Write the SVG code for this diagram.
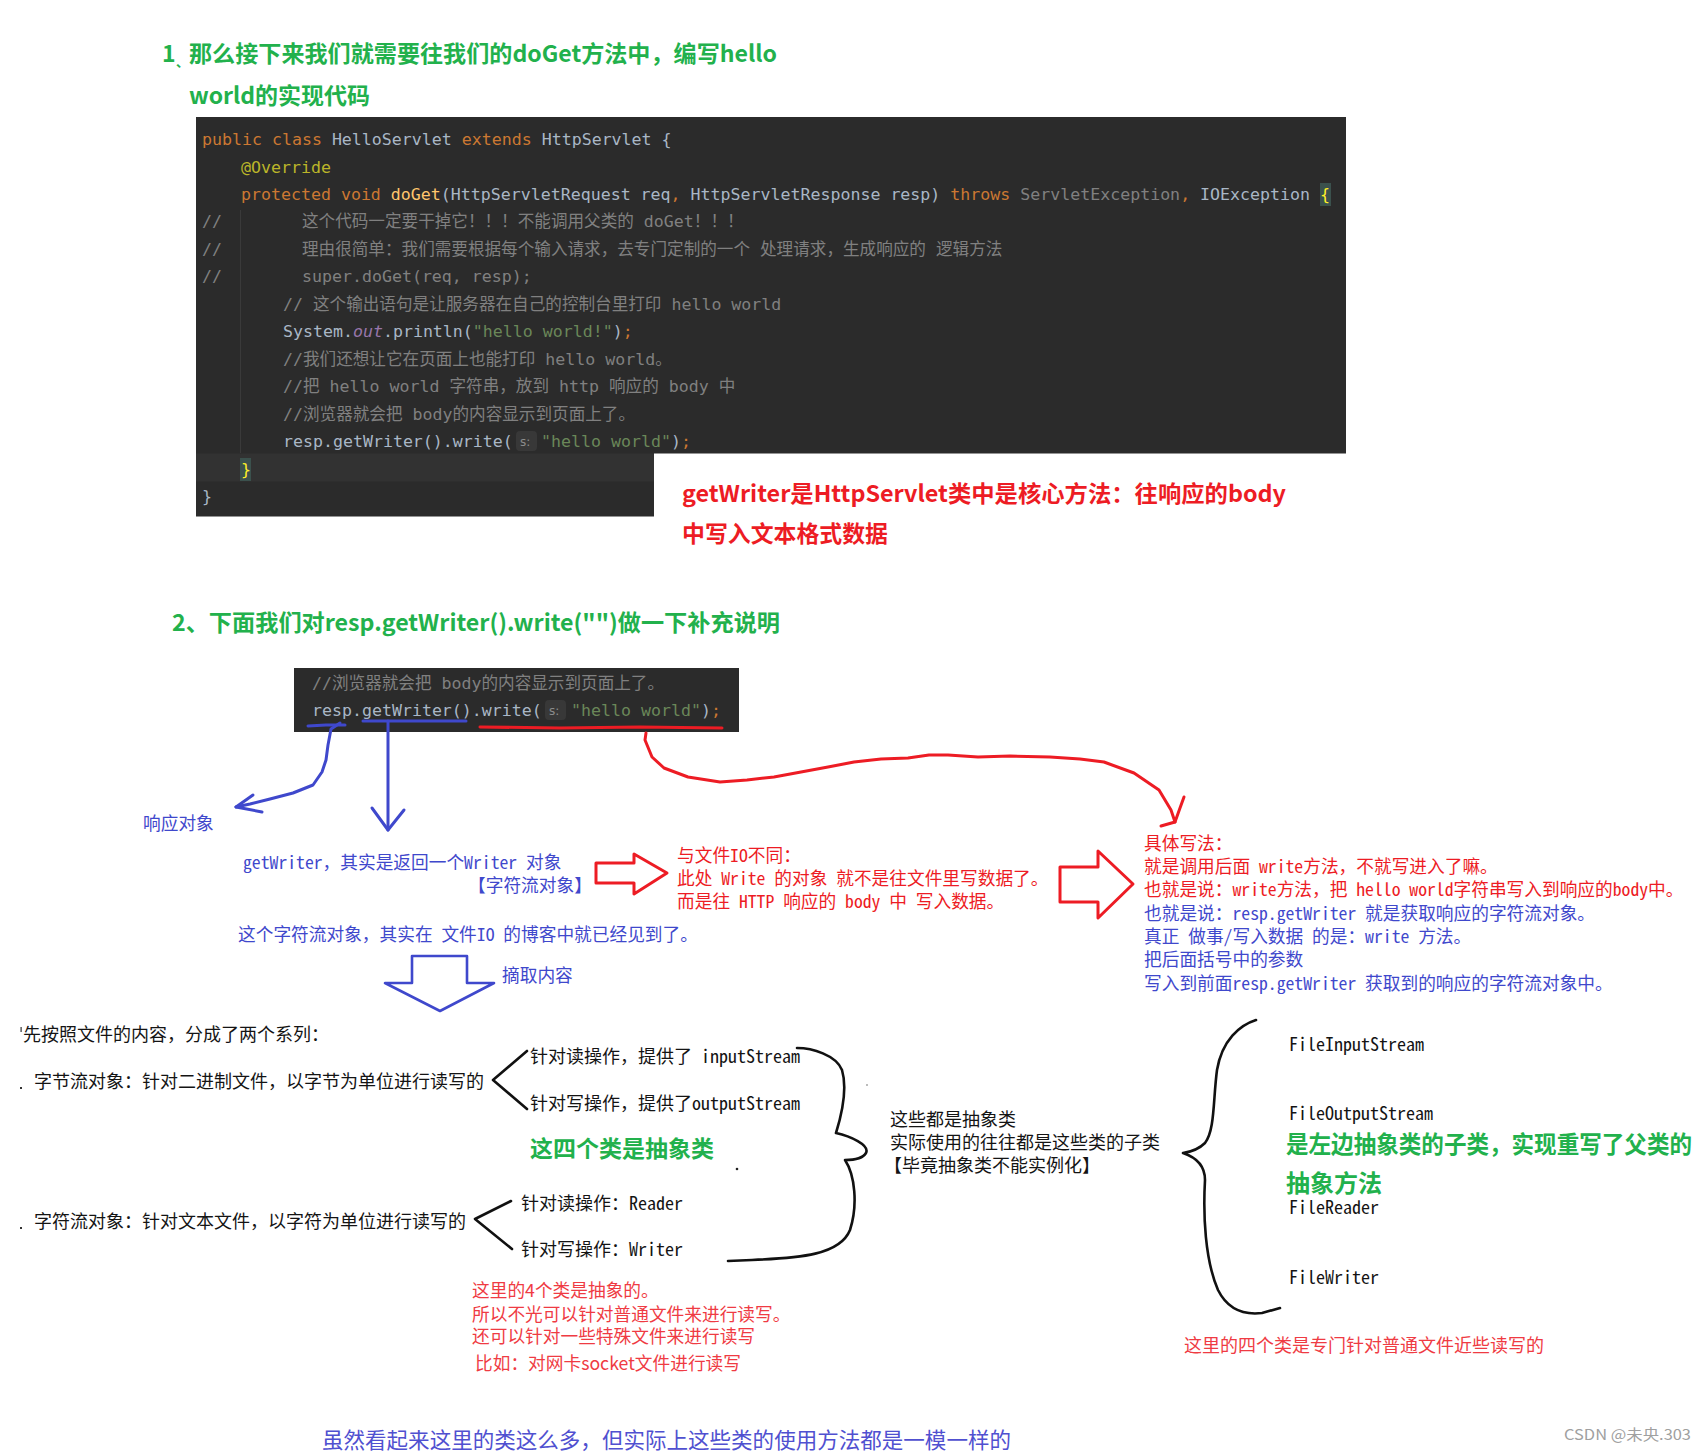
<svg xmlns="http://www.w3.org/2000/svg" width="1705" height="1453" viewBox="0 0 1705 1453">
<defs>
<style>
.h{font-family:"Noto Sans CJK SC",sans-serif;font-weight:700;font-size:23px}
.g{fill:#22b14c}
.r{fill:#ed1c24}
.b{fill:#3f48cc}
.sim{font-family:"Noto Sans Mono CJK SC","Noto Sans CJK SC",monospace;font-size:17.7px}
.sim.k{fill:#141414;font-size:18px}
.code{font-family:"DejaVu Sans Mono","Noto Sans CJK SC",monospace;font-size:16.6px}
.kw{fill:#cc7832}
.id{fill:#a9b7c6}
.fn{fill:#ffc66d}
.an{fill:#bbb529}
.cm{fill:#808080}
.st{fill:#6a8759}
.ou{fill:#9876aa;font-style:italic}
.ye{fill:#ffef28}
.hint{font-family:"DejaVu Sans",sans-serif;font-size:12px;fill:#8c8c8c}
.rt{font-family:"Noto Sans CJK SC",sans-serif;font-size:17.7px;fill:#ef3b43}
.ln{fill:none;stroke-linecap:round;stroke-linejoin:round}
.bl{stroke:#3f48cc;stroke-width:3}
.rd{stroke:#ed1c24;stroke-width:3}
.bk{stroke:#111;stroke-width:2.6}
</style>
</defs>
<rect width="1705" height="1453" fill="#ffffff"/>

<g id="title1">
<text class="h g" x="162" y="62">1</text>
<text class="h g" x="176" y="66" style="font-size:13px">、</text>
<text class="h g" x="189" y="62" textLength="588" lengthAdjust="spacingAndGlyphs">那么接下来我们就需要往我们的doGet方法中，编写hello</text>
<text class="h g" x="189" y="104" textLength="181" lengthAdjust="spacingAndGlyphs">world的实现代码</text>
</g>

<g id="code-block-1">
<path d="M196,117 H1346 V453.5 H654 V516.5 H196 Z" fill="#2b2b2b"/>
<rect x="196" y="453.5" width="458" height="28" fill="#323232"/>
<line x1="240.5" y1="210" x2="240.5" y2="453" stroke="#3a3a3a" stroke-width="1"/>
<rect x="1320" y="183" width="11" height="23" fill="#3b514d"/>
<rect x="240" y="458" width="11" height="23" fill="#3b514d"/>
<text class="code" x="202" y="145" xml:space="preserve"><tspan class="kw">public class </tspan><tspan class="id">HelloServlet </tspan><tspan class="kw">extends </tspan><tspan class="id">HttpServlet {</tspan></text>
<text class="code an" x="241" y="172.5">@Override</text>
<text class="code" x="241" y="200" xml:space="preserve"><tspan class="kw">protected void </tspan><tspan class="fn">doGet</tspan><tspan class="id">(HttpServletRequest req</tspan><tspan class="kw">, </tspan><tspan class="id">HttpServletResponse resp) </tspan><tspan class="kw">throws </tspan><tspan class="cm">ServletException</tspan><tspan class="kw">, </tspan><tspan class="id">IOException </tspan><tspan class="ye">{</tspan></text>
<text class="code cm" x="202" y="227.4">//</text>
<text class="code cm" x="302" y="227.4">这个代码一定要干掉它！！！不能调用父类的 doGet！！！</text>
<text class="code cm" x="202" y="254.8">//</text>
<text class="code cm" x="302" y="254.8">理由很简单：我们需要根据每个输入请求，去专门定制的一个 处理请求，生成响应的 逻辑方法</text>
<text class="code cm" x="202" y="282.3">//</text>
<text class="code cm" x="302" y="282.3">super.doGet(req, resp);</text>
<text class="code cm" x="283" y="309.8">// 这个输出语句是让服务器在自己的控制台里打印 hello world</text>
<text class="code" x="283" y="337.2"><tspan class="id">System.</tspan><tspan class="ou">out</tspan><tspan class="id">.println(</tspan><tspan class="st">"hello world!"</tspan><tspan class="id">)</tspan><tspan class="kw">;</tspan></text>
<text class="code cm" x="283" y="364.7">//我们还想让它在页面上也能打印 hello world。</text>
<text class="code cm" x="283" y="392.1">//把 hello world 字符串，放到 http 响应的 body 中</text>
<text class="code cm" x="283" y="419.6">//浏览器就会把 body的内容显示到页面上了。</text>
<text class="code id" x="283" y="447.1">resp.getWriter().write(</text>
<rect x="516" y="431" width="21" height="20" rx="4" fill="#383838"/>
<text class="hint" x="520" y="445.5">s:</text>
<text class="code" x="541" y="447.1"><tspan class="st">"hello world"</tspan><tspan class="id">)</tspan><tspan class="kw">;</tspan></text>
<text class="code ye" x="241" y="474.5">}</text>
<text class="code id" x="202" y="502">}</text>
</g>

<g id="note-getwriter">
<text class="h r" x="682" y="502" textLength="604" lengthAdjust="spacingAndGlyphs">getWriter是HttpServlet类中是核心方法：往响应的body</text>
<text class="h r" x="682" y="542" textLength="206" lengthAdjust="spacingAndGlyphs">中写入文本格式数据</text>
</g>

<g id="title2">
<text class="h g" x="172" y="631" textLength="608" lengthAdjust="spacingAndGlyphs">2、下面我们对resp.getWriter().write("")做一下补充说明</text>
</g>

<g id="code-block-2">
<rect x="294" y="668" width="445" height="64" fill="#2b2b2b"/>
<text class="code cm" x="312" y="689">//浏览器就会把 body的内容显示到页面上了。</text>
<text class="code id" x="312" y="716">resp.getWriter().write(</text>
<rect x="545" y="700" width="21" height="20" rx="4" fill="#383838"/>
<text class="hint" x="549" y="714.5">s:</text>
<text class="code" x="571" y="716"><tspan class="st">"hello world"</tspan><tspan class="id">)</tspan><tspan class="kw">;</tspan></text>
</g>

<g id="connectors">
<polyline class="ln bl" points="308,726 326,725 345,725"/>
<polyline class="ln bl" points="363,721 420,721 466,721"/>
<polyline class="ln rd" points="480,727 560,728 640,727 722,728"/>
<polyline class="ln bl" points="340,723 331,729 328,745 326,760 322,772 313,785 293,793 270,799 250,804 236,807"/>
<polyline class="ln bl" points="253,795 236,807 262,812"/>
<line class="ln bl" x1="388" y1="721" x2="388" y2="830"/>
<polyline class="ln bl" points="372,808 388,830 404,810"/>
<polyline class="ln rd" points="646,733 645,740 652,757 664,768 688,777 720,782 747,780 774,777 801,772 828,767 854,762 881,759 908,758 929,755 948,755 978,757 1010,756 1050,757 1080,759 1104,762 1134,773 1159,790 1171,810 1175,822"/>
<polyline class="ln rd" points="1184,797 1180,808 1175,822 1161,826"/>
<polygon class="ln" points="596,863 634,863 634,854 667,873 634,894 634,883 596,883" stroke="#ed1c24" stroke-width="3" fill="none"/>
<polygon class="ln" points="1060,867 1098,867 1098,851 1133,884 1098,918 1098,902 1060,902" stroke="#ed1c24" stroke-width="3" fill="none"/>
<polygon class="ln" points="412,956 467,956 467,983 494,983 440,1011 385,983 412,983" stroke="#3f48cc" stroke-width="2.6" fill="none"/>
<polyline class="ln bk" points="527,1051 493,1080 527,1109"/>
<polyline class="ln bk" points="511,1201 475,1219 512,1249"/>
<path class="ln bk" d="M797,1048 C812,1048 836,1055 842,1070 C848,1090 840,1120 836,1133 C850,1136 870,1145 866,1153 C862,1160 850,1160 845,1160 C855,1175 858,1205 850,1230 C840,1255 800,1258 752,1260 L728,1261"/>
<path class="ln bk" d="M1256,1020 C1240,1025 1222,1040 1217,1070 C1213,1100 1215,1130 1205,1143 C1198,1150 1190,1152 1183,1153 C1195,1157 1205,1165 1205,1180 C1203,1215 1205,1260 1218,1290 C1228,1310 1245,1315 1262,1313 L1280,1308"/>
</g>

<g id="label-response-object">
<text class="sim b" x="143" y="829.5">响应对象</text>
</g>

<g id="label-getwriter">
<text class="sim b" x="243" y="869">getWriter，其实是返回一个Writer 对象</text>
<text class="sim b" x="468" y="892">【字符流对象】</text>
<text class="sim b" x="238" y="941">这个字符流对象，其实在 文件IO 的博客中就已经见到了。</text>
</g>

<g id="label-diff-file-io">
<text class="sim r" x="677" y="862">与文件IO不同：</text>
<text class="sim r" x="677" y="885">此处 Write 的对象 就不是往文件里写数据了。</text>
<text class="sim r" x="677" y="908">而是往 HTTP 响应的 body 中 写入数据。</text>
</g>

<g id="label-usage">
<text class="sim r" x="1144" y="849.5">具体写法：</text>
<text class="sim r" x="1144" y="872.8">就是调用后面 write方法，不就写进入了嘛。</text>
<text class="sim r" x="1144" y="896.2">也就是说：write方法，把 hello world字符串写入到响应的body中。</text>
<text class="sim b" x="1144" y="919.5">也就是说：resp.getWriter 就是获取响应的字符流对象。</text>
<text class="sim b" x="1144" y="942.8">真正 做事/写入数据 的是：write 方法。</text>
<text class="sim b" x="1144" y="966.2">把后面括号中的参数</text>
<text class="sim b" x="1144" y="989.5">写入到前面resp.getWriter 获取到的响应的字符流对象中。</text>
</g>

<g id="label-extract">
<text class="sim b" x="502" y="982">摘取内容</text>
</g>

<g id="stream-categories">
<rect x="20.5" y="1027" width="1.2" height="5" fill="#333"/>
<text class="sim k" x="23" y="1040.5">先按照文件的内容，分成了两个系列：</text>
<rect x="20" y="1087" width="2" height="2" fill="#333"/>
<text class="sim k" x="34" y="1087.5">字节流对象：针对二进制文件，以字节为单位进行读写的</text>
<rect x="20" y="1227" width="2" height="2" fill="#333"/>
<text class="sim k" x="34" y="1227.5">字符流对象：针对文本文件，以字符为单位进行读写的</text>
</g>

<g id="byte-stream-classes">
<text class="sim k" x="530" y="1062.5">针对读操作，提供了 inputStream</text>
<text class="sim k" x="530" y="1109.5">针对写操作，提供了outputStream</text>
</g>

<g id="char-stream-classes">
<text class="sim k" x="521" y="1209.5">针对读操作：Reader</text>
<text class="sim k" x="521" y="1255.5">针对写操作：Writer</text>
</g>

<g id="note-four-abstract">
<text class="h g" x="530" y="1156.5">这四个类是抽象类</text>
<circle cx="737" cy="1169" r="1.3" fill="#222"/>
<circle cx="867" cy="1085" r="0.8" fill="#666"/>
</g>

<g id="note-abstract-classes">
<text class="sim k" x="890" y="1125.5">这些都是抽象类</text>
<text class="sim k" x="890" y="1148.5">实际使用的往往都是这些类的子类</text>
<text class="sim k" x="884" y="1171.5">【毕竟抽象类不能实例化】</text>
</g>

<g id="file-classes">
<text class="sim k" x="1289" y="1050.5">FileInputStream</text>
<text class="sim k" x="1289" y="1119.5">FileOutputStream</text>
<text class="sim k" x="1289" y="1214">FileReader</text>
<text class="sim k" x="1289" y="1283.5">FileWriter</text>
</g>

<g id="note-subclasses">
<text class="h g" x="1286" y="1153" style="font-size:24px" textLength="406" lengthAdjust="spacingAndGlyphs">是左边抽象类的子类，实现重写了父类的</text>
<text class="h g" x="1286" y="1192" style="font-size:24px">抽象方法</text>
</g>

<g id="note-special-files">
<text class="rt" x="472" y="1296.5">这里的4个类是抽象的。</text>
<text class="rt" x="472" y="1320.5">所以不光可以针对普通文件来进行读写。</text>
<text class="rt" x="472" y="1342.5">还可以针对一些特殊文件来进行读写</text>
<text class="rt" x="475" y="1369.5">比如：对网卡socket文件进行读写</text>
</g>

<g id="note-ordinary-files">
<text x="1184" y="1351.5" style="font-family:'Noto Sans CJK SC',sans-serif;font-size:18px;fill:#ef3b43">这里的四个类是专门针对普通文件近些读写的</text>
</g>

<g id="note-same-usage">
<text x="322" y="1448" style="font-family:'Noto Sans CJK SC',sans-serif;font-size:21.5px;fill:#5050d0" textLength="689" lengthAdjust="spacingAndGlyphs">虽然看起来这里的类这么多，但实际上这些类的使用方法都是一模一样的</text>
</g>

<g id="watermark">
<text x="1564" y="1440" style="font-family:'Noto Sans CJK SC',sans-serif;font-size:14.5px;fill:#a0a0a0" textLength="127" lengthAdjust="spacingAndGlyphs">CSDN @未央.303</text>
</g>
</svg>
